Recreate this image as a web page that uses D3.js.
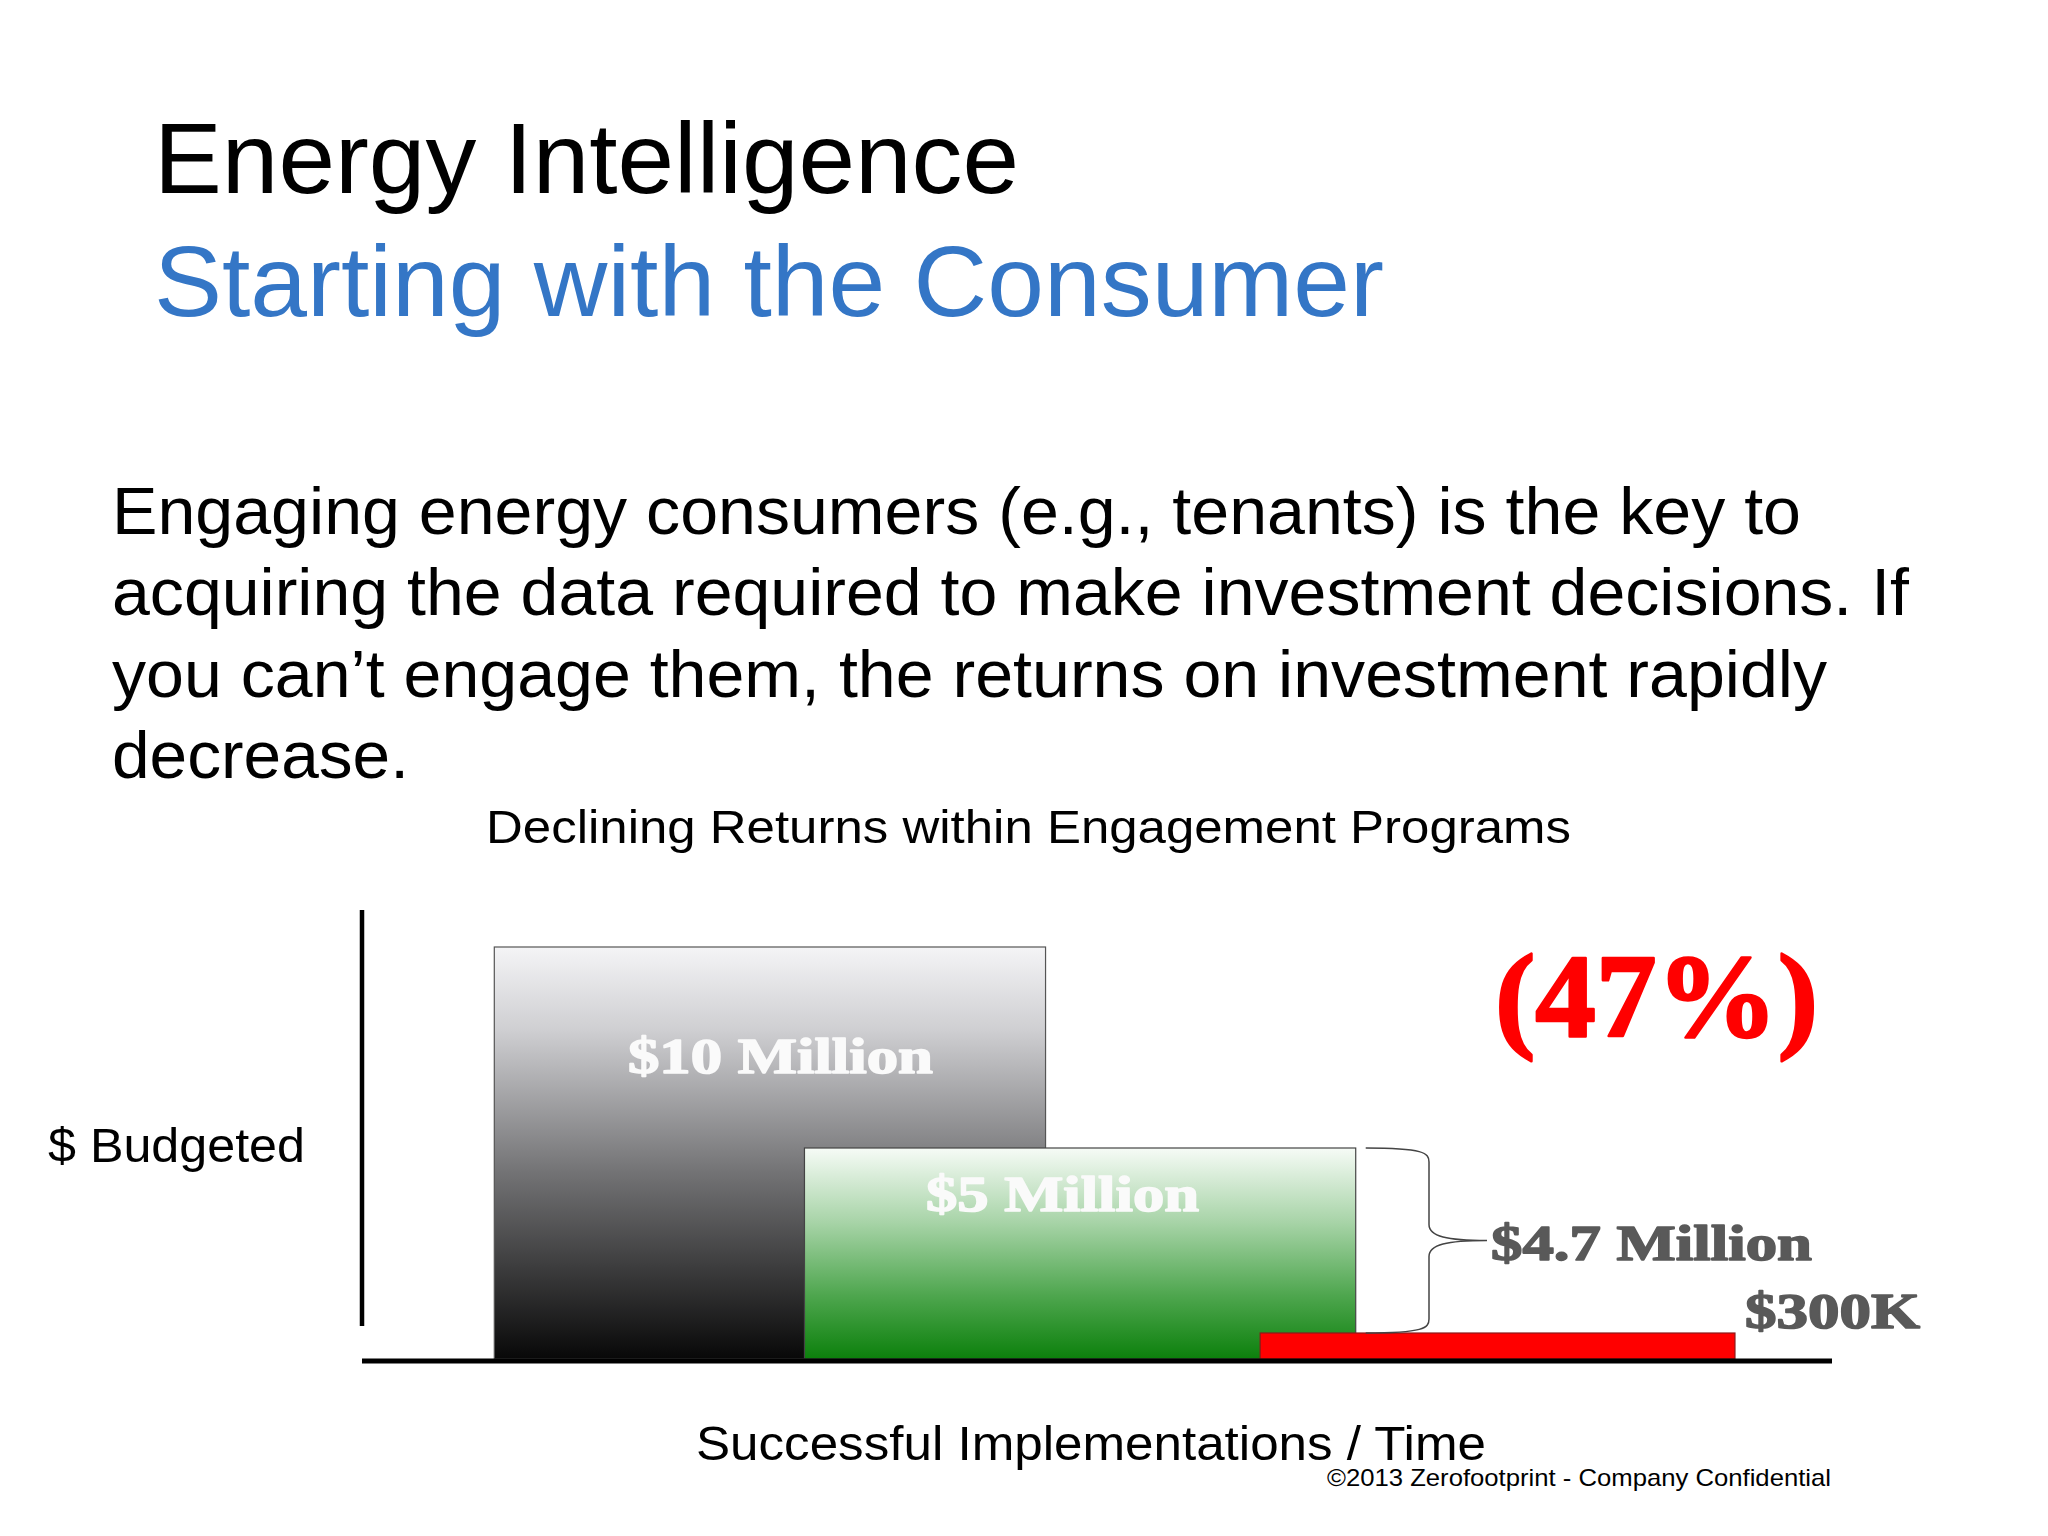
<!DOCTYPE html>
<html>
<head>
<meta charset="utf-8">
<script src="https://cdn.jsdelivr.net/npm/d3@7/dist/d3.min.js"></script>
<style>
  html, body { margin: 0; padding: 0; background: #ffffff; }
  svg { display: block; }
</style>
</head>
<body>
<svg id="chart" width="2048" height="1536"></svg>
<script>
// ---- Data ----
const titleLines = ["Energy Intelligence", "Starting with the Consumer"];
const bodyLines = [
  "Engaging energy consumers (e.g., tenants) is the key to",
  "acquiring the data required to make investment decisions. If",
  "you can\u2019t engage them, the returns on investment rapidly",
  "decrease."
];
const chartTitle = "Declining Returns within Engagement Programs";
const yLabel = "$ Budgeted";
const xLabel = "Successful Implementations / Time";
const footer = "\u00A92013 Zerofootprint - Company Confidential";

const barLabels = ["$10 Million", "$5 Million", "$300K"];
const barValues = [10, 5, 0.3];          // $ millions budgeted
const barTimeStart = [9, 30.1, 61.1];     // relative time units
const barTimeEnd = [46.5, 67.6, 93.4];
const gapLabel = "$4.7 Million";          // difference between 5 and 0.3
const gapPercent = "(47%)";

// ---- Setup ----
const svg = d3.select("#chart");
const defs = svg.append("defs");
const sans = "Liberation Sans, Arial, sans-serif";
const serif = "Liberation Serif, Times New Roman, serif";

const gGray = defs.append("linearGradient").attr("id", "gGray")
  .attr("x1", 0).attr("y1", 0).attr("x2", 0).attr("y2", 1);
gGray.append("stop").attr("offset", "0%").attr("stop-color", "#f4f4f6");
gGray.append("stop").attr("offset", "20%").attr("stop-color", "#cfcfd2");
gGray.append("stop").attr("offset", "55%").attr("stop-color", "#727274");
gGray.append("stop").attr("offset", "100%").attr("stop-color", "#080808");

const gGreen = defs.append("linearGradient").attr("id", "gGreen")
  .attr("x1", 0).attr("y1", 0).attr("x2", 0).attr("y2", 1);
gGreen.append("stop").attr("offset", "0%").attr("stop-color", "#f6fbf6");
gGreen.append("stop").attr("offset", "35%").attr("stop-color", "#a8d4a8");
gGreen.append("stop").attr("offset", "70%").attr("stop-color", "#4ea64e");
gGreen.append("stop").attr("offset", "100%").attr("stop-color", "#0c800c");

const barFills = ["url(#gGray)", "url(#gGreen)", "#ff0000"];
const barStrokes = ["#555555", "#444444", "#8b1a1a"];

// Scales
const x = d3.scaleLinear().domain([0, 100]).range([362, 1832]);
const y = d3.scaleLinear().domain([0, 0.3, 5, 10]).range([1359, 1333, 1148, 947]);

function addText(opts) {
  const t = svg.append("text")
    .attr("x", opts.x).attr("y", opts.y)
    .attr("font-family", opts.family || sans)
    .attr("font-size", opts.size)
    .attr("fill", opts.fill || "#000")
    .attr("text-anchor", opts.anchor || "start")
    .text(opts.text);
  if (opts.weight) t.attr("font-weight", opts.weight);
  if (opts.len) t.attr("textLength", opts.len).attr("lengthAdjust", "spacingAndGlyphs");
  if (opts.stroke) t.attr("stroke", opts.fill).attr("stroke-width", opts.stroke)
    .attr("stroke-linejoin", "round");
  return t;
}

// ---- Titles ----
addText({x: 154, y: 193, size: 101, text: titleLines[0], len: 865});
addText({x: 154, y: 316, size: 101, fill: "#3476c6", text: titleLines[1], len: 1230});

// ---- Body ----
const bodyLens = [1689, 1797, 1715, 297];
bodyLines.forEach((t, i) => {
  addText({x: 112, y: 534 + i * 81.3, size: 66, text: t, len: bodyLens[i]});
});

// ---- Chart title ----
addText({x: 486, y: 843, size: 47, text: chartTitle, len: 1085});

// ---- Bars ----
const bars = barValues.map((v, i) => ({
  v, label: barLabels[i], t0: barTimeStart[i], t1: barTimeEnd[i], i
}));
svg.append("g").selectAll("rect").data(bars).join("rect")
  .attr("x", d => x(d.t0))
  .attr("y", d => y(d.v))
  .attr("width", d => x(d.t1) - x(d.t0))
  .attr("height", d => y(0) - y(d.v))
  .attr("fill", d => barFills[d.i])
  .attr("stroke", d => barStrokes[d.i])
  .attr("stroke-width", 1.2);

// ---- Axes ----
svg.append("line").attr("x1", x(0)).attr("x2", x(0))
  .attr("y1", 910).attr("y2", 1326)
  .attr("stroke", "#000").attr("stroke-width", 4.5);
svg.append("line").attr("x1", x(0)).attr("x2", x(100))
  .attr("y1", y(0) + 2).attr("y2", y(0) + 2)
  .attr("stroke", "#000").attr("stroke-width", 5);

// ---- Bar labels (inside) ----
addText({x: 628, y: 1073, size: 50, family: serif, weight: "bold", fill: "#fafafa",
  text: bars[0].label, len: 305, stroke: 1.6});
addText({x: 926, y: 1211, size: 50, family: serif, weight: "bold", fill: "#fafafa",
  text: bars[1].label, len: 273, stroke: 1.6});
addText({x: 1745, y: 1328, size: 50, family: serif, weight: "bold", fill: "#595959",
  text: bars[2].label, len: 175, stroke: 1.6});

// ---- Brace between green top and red top ----
const bx0 = x(barTimeEnd[1]) + 10, bxv = 1429, btip = 1487;
const yt = y(barValues[1]), yb = y(barValues[2]), ym = (yt + yb) / 2;
const brace = d3.path();
brace.moveTo(bx0, yt);
brace.bezierCurveTo(bxv - 5, yt, bxv, yt + 5, bxv, yt + 14);
brace.lineTo(bxv, ym - 16);
brace.bezierCurveTo(bxv, ym - 4, btip - 40, ym, btip, ym);
brace.bezierCurveTo(btip - 40, ym, bxv, ym + 4, bxv, ym + 16);
brace.lineTo(bxv, yb - 14);
brace.bezierCurveTo(bxv, yb - 5, bxv - 5, yb, bx0, yb);
svg.append("path").attr("d", brace.toString())
  .attr("fill", "none").attr("stroke", "#444").attr("stroke-width", 1.5);

addText({x: 1491, y: 1260, size: 50, family: serif, weight: "bold", fill: "#595959",
  text: gapLabel, len: 321, stroke: 1.6});

// ---- Percentage ----
addText({x: 1495, y: 1036, size: 118, family: serif, weight: "bold", fill: "#ff0000",
  text: gapPercent, len: 323, stroke: 2.5});

// ---- Axis labels ----
addText({x: 48, y: 1162, size: 48, text: yLabel, len: 257});
addText({x: 696, y: 1460, size: 48, text: xLabel, len: 790});
addText({x: 1327, y: 1486, size: 24, text: footer, len: 504});
</script>
</body>
</html>
